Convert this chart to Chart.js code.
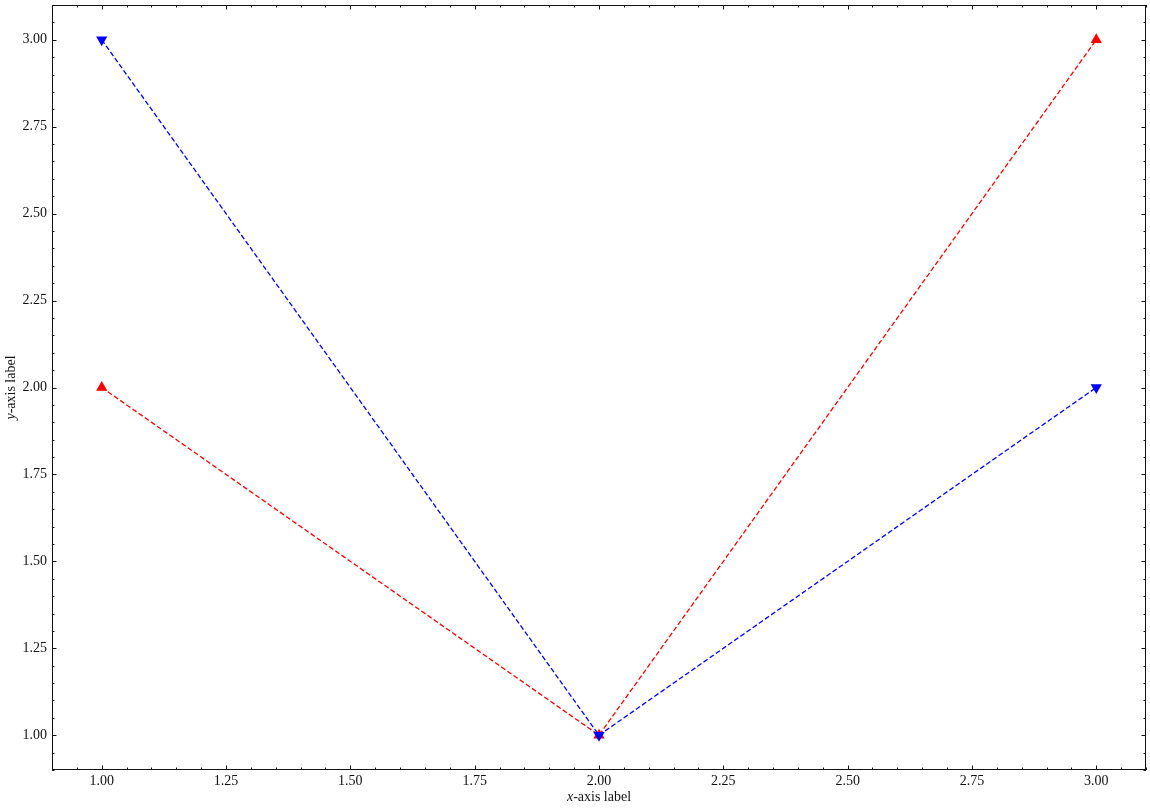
<!DOCTYPE html>
<html>
<head>
<meta charset="utf-8">
<script src="https://cdn.jsdelivr.net/npm/chart.js@4/dist/chart.umd.min.js"></script>
<style>
html,body{margin:0;padding:0;background:#fff;}
#wrap{width:1150px;height:810px;position:relative;}
</style>
</head>
<body>
<div id="wrap"><canvas id="c"></canvas></div>
<script>
// Data
const xValues = [1, 2, 3];
const redValues = [2, 1, 3];
const blueValues = [3, 1, 2];
const xMajorTicks = [1.00, 1.25, 1.50, 1.75, 2.00, 2.25, 2.50, 2.75, 3.00];
const yMajorTicks = [1.00, 1.25, 1.50, 1.75, 2.00, 2.25, 2.50, 2.75, 3.00];
const xLabelText = ['x', '-axis label'];
const yLabelText = ['y', '-axis label'];

const FONT = '"Liberation Serif", "DejaVu Serif", serif';
const AXIS_MIN = 0.9, AXIS_MAX = 3.1, MINOR_STEP = 0.05;

function minorTicks() {
  const out = [];
  for (let i = Math.ceil(AXIS_MIN / MINOR_STEP); i * MINOR_STEP <= AXIS_MAX + 1e-9; i++) {
    const v = +(i * MINOR_STEP).toFixed(4);
    if (Math.abs((v / 0.25) - Math.round(v / 0.25)) > 1e-6) out.push(v);
  }
  return out;
}

const framePlugin = {
  id: 'frame',
  afterDraw(chart) {
    const ctx = chart.ctx;
    const a = chart.chartArea;
    const xs = chart.scales.x, ys = chart.scales.y;
    ctx.save();
    ctx.strokeStyle = '#111';
    ctx.lineWidth = 1;
    ctx.strokeRect(a.left + 0.5, a.top + 0.5, a.right - a.left - 1, a.bottom - a.top - 1);
    const majL = 4.5, minL = 2.5;
    ctx.beginPath();
    const drawX = (v, L) => {
      const p = Math.round(xs.getPixelForValue(v)) + 0.5;
      ctx.moveTo(p, a.bottom); ctx.lineTo(p, a.bottom - L);
      ctx.moveTo(p, a.top); ctx.lineTo(p, a.top + L);
    };
    const drawY = (v, L) => {
      const p = Math.round(ys.getPixelForValue(v)) + 0.5;
      ctx.moveTo(a.left, p); ctx.lineTo(a.left + L, p);
      ctx.moveTo(a.right, p); ctx.lineTo(a.right - L, p);
    };
    xMajorTicks.forEach(v => drawX(v, majL));
    yMajorTicks.forEach(v => drawY(v, majL));
    minorTicks().forEach(v => { drawX(v, minL); drawY(v, minL); });
    ctx.stroke();

    // axis labels with italic variable
    ctx.fillStyle = '#111';
    ctx.textBaseline = 'middle';
    const itF = 'italic 14px ' + FONT, rgF = '14px ' + FONT;
    ctx.font = itF; const w1 = ctx.measureText(xLabelText[0]).width;
    ctx.font = rgF; const w2 = ctx.measureText(xLabelText[1]).width;
    const cx = (a.left + a.right) / 2;
    let sx = cx - (w1 + w2) / 2;
    const ly = 797;
    ctx.textAlign = 'left';
    ctx.font = itF; ctx.fillText(xLabelText[0], sx, ly);
    ctx.font = rgF; ctx.fillText(xLabelText[1], sx + w1, ly);

    ctx.font = itF; const h1 = ctx.measureText(yLabelText[0]).width;
    ctx.font = rgF; const h2 = ctx.measureText(yLabelText[1]).width;
    const cy = (a.top + a.bottom) / 2;
    ctx.translate(11, cy);
    ctx.rotate(-Math.PI / 2);
    const s2 = -(h1 + h2) / 2;
    ctx.font = itF; ctx.fillText(yLabelText[0], s2, 0);
    ctx.font = rgF; ctx.fillText(yLabelText[1], s2 + h1, 0);
    ctx.restore();
  }
};

new Chart(document.getElementById('c'), {
  type: 'line',
  data: {
    datasets: [
      {
        label: 'red',
        data: xValues.map((x, i) => ({x: x, y: redValues[i]})),
        borderColor: '#ff0000',
        backgroundColor: '#ff0000',
        borderWidth: 1.3,
        borderDash: [5, 2.5],
        pointStyle: 'triangle',
        pointRadius: 6.5,
        pointBorderWidth: 0,
        pointRotation: 0,
        tension: 0,
        order: 2
      },
      {
        label: 'blue',
        data: xValues.map((x, i) => ({x: x, y: blueValues[i]})),
        borderColor: '#0000ff',
        backgroundColor: '#0000ff',
        borderWidth: 1.3,
        borderDash: [5, 2.5],
        pointStyle: 'triangle',
        pointRadius: 6.5,
        pointBorderWidth: 0,
        pointRotation: 180,
        tension: 0,
        order: 1
      }
    ]
  },
  options: {
    responsive: true,
    maintainAspectRatio: false,
    animation: false,
    layout: {autoPadding: false, padding: {top: 5, right: 4, left: 0, bottom: 0}},
    plugins: {legend: {display: false}, tooltip: {enabled: false}},
    scales: {
      x: {
        type: 'linear',
        min: AXIS_MIN, max: AXIS_MAX,
        grid: {display: false, drawTicks: false},
        border: {display: false},
        afterBuildTicks: s => { s.ticks = xMajorTicks.map(v => ({value: v})); },
        afterFit: s => { s.height = 40; s.paddingLeft = 0; s.paddingRight = 0; },
        ticks: {
          padding: 3,
          color: '#111',
          font: {family: FONT, size: 14},
          maxRotation: 0,
          callback: v => Number(v).toFixed(2)
        }
      },
      y: {
        type: 'linear',
        min: AXIS_MIN, max: AXIS_MAX,
        grid: {display: false, drawTicks: false},
        border: {display: false},
        afterBuildTicks: s => { s.ticks = yMajorTicks.map(v => ({value: v})); },
        afterFit: s => { s.width = 52; s.paddingTop = 0; s.paddingBottom = 0; },
        ticks: {
          padding: 5,
          color: '#111',
          font: {family: FONT, size: 14},
          callback: v => Number(v).toFixed(2)
        }
      }
    }
  },
  plugins: [framePlugin]
});
</script>
</body>
</html>
